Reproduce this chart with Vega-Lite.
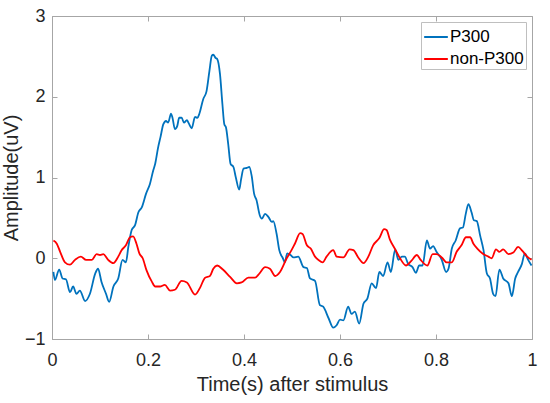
{
  "$schema": "https://vega.github.io/schema/vega-lite/v6.json",
  "width": 480,
  "height": 323,
  "autosize": "none",
  "padding": {"left": 52, "top": 16, "right": 18, "bottom": 64},
  "background": "white",
  "config": {
    "view": {"stroke": "#a6a6a6", "strokeWidth": 1},
    "font": "Liberation Sans",
    "axis": {"grid": false, "domainColor": "#a6a6a6", "tickColor": "#a6a6a6", "labelColor": "#262626", "titleColor": "#262626", "labelFont": "Liberation Sans", "titleFont": "Liberation Sans", "titleFontWeight": "normal", "labelFontSize": 18, "titleFontSize": 20, "labelFlush": false, "tickSize": -5}
  },
  "datasets": {
    "p300": [
      {"t":0.003,"v":-0.17},{"t":0.006,"v":-0.27},{"t":0.015,"v":-0.14},{"t":0.022,"v":-0.25},{"t":0.029,"v":-0.26},{"t":0.0375,"v":-0.42},{"t":0.044,"v":-0.35},{"t":0.051,"v":-0.44},{"t":0.058,"v":-0.40},{"t":0.069,"v":-0.53},{"t":0.079,"v":-0.44},{"t":0.090,"v":-0.19},{"t":0.096,"v":-0.13},{"t":0.103,"v":-0.29},{"t":0.1125,"v":-0.44},{"t":0.119,"v":-0.54},{"t":0.128,"v":-0.35},{"t":0.138,"v":-0.25},{"t":0.147,"v":-0.02},{"t":0.154,"v":-0.05},{"t":0.159,"v":0.14},{"t":0.166,"v":0.35},{"t":0.173,"v":0.41},{"t":0.180,"v":0.57},{"t":0.187,"v":0.63},{"t":0.196,"v":0.80},{"t":0.204,"v":0.92},{"t":0.211,"v":1.09},{"t":0.215,"v":1.17},{"t":0.221,"v":1.37},{"t":0.226,"v":1.50},{"t":0.232,"v":1.66},{"t":0.2375,"v":1.70},{"t":0.242,"v":1.68},{"t":0.248,"v":1.79},{"t":0.251,"v":1.74},{"t":0.256,"v":1.60},{"t":0.261,"v":1.64},{"t":0.265,"v":1.74},{"t":0.270,"v":1.74},{"t":0.275,"v":1.68},{"t":0.281,"v":1.71},{"t":0.285,"v":1.67},{"t":0.291,"v":1.61},{"t":0.298,"v":1.75},{"t":0.303,"v":1.74},{"t":0.307,"v":1.79},{"t":0.315,"v":1.97},{"t":0.322,"v":2.07},{"t":0.328,"v":2.32},{"t":0.333,"v":2.51},{"t":0.336,"v":2.52},{"t":0.341,"v":2.48},{"t":0.344,"v":2.47},{"t":0.350,"v":2.28},{"t":0.355,"v":1.91},{"t":0.359,"v":1.66},{"t":0.3625,"v":1.62},{"t":0.367,"v":1.42},{"t":0.372,"v":1.17},{"t":0.378,"v":1.13},{"t":0.383,"v":1.00},{"t":0.390,"v":0.85},{"t":0.394,"v":0.98},{"t":0.399,"v":1.11},{"t":0.406,"v":1.12},{"t":0.411,"v":1.13},{"t":0.416,"v":1.02},{"t":0.421,"v":0.80},{"t":0.426,"v":0.72},{"t":0.433,"v":0.53},{"t":0.437,"v":0.49},{"t":0.444,"v":0.55},{"t":0.451,"v":0.51},{"t":0.458,"v":0.45},{"t":0.461,"v":0.46},{"t":0.468,"v":0.30},{"t":0.4735,"v":0.10},{"t":0.481,"v":0.00},{"t":0.485,"v":-0.05},{"t":0.490,"v":0.06},{"t":0.497,"v":0.04},{"t":0.503,"v":0.01},{"t":0.513,"v":0.02},{"t":0.524,"v":-0.11},{"t":0.531,"v":-0.12},{"t":0.5375,"v":-0.25},{"t":0.548,"v":-0.28},{"t":0.558,"v":-0.58},{"t":0.565,"v":-0.60},{"t":0.576,"v":-0.74},{"t":0.586,"v":-0.86},{"t":0.593,"v":-0.83},{"t":0.600,"v":-0.76},{"t":0.607,"v":-0.77},{"t":0.617,"v":-0.60},{"t":0.624,"v":-0.69},{"t":0.631,"v":-0.66},{"t":0.640,"v":-0.81},{"t":0.649,"v":-0.56},{"t":0.657,"v":-0.50},{"t":0.666,"v":-0.31},{"t":0.675,"v":-0.37},{"t":0.682,"v":-0.17},{"t":0.690,"v":-0.22},{"t":0.699,"v":-0.05},{"t":0.706,"v":-0.17},{"t":0.715,"v":0.11},{"t":0.7215,"v":-0.02},{"t":0.729,"v":0.02},{"t":0.735,"v":0.02},{"t":0.742,"v":-0.07},{"t":0.751,"v":-0.11},{"t":0.758,"v":-0.18},{"t":0.765,"v":-0.09},{"t":0.772,"v":-0.09},{"t":0.781,"v":0.22},{"t":0.7875,"v":0.12},{"t":0.794,"v":0.15},{"t":0.801,"v":0.08},{"t":0.812,"v":-0.02},{"t":0.821,"v":-0.17},{"t":0.826,"v":-0.13},{"t":0.833,"v":0.12},{"t":0.841,"v":0.22},{"t":0.850,"v":0.37},{"t":0.856,"v":0.38},{"t":0.862,"v":0.55},{"t":0.8675,"v":0.67},{"t":0.874,"v":0.57},{"t":0.879,"v":0.47},{"t":0.885,"v":0.46},{"t":0.892,"v":0.28},{"t":0.899,"v":0.10},{"t":0.906,"v":-0.19},{"t":0.9125,"v":-0.25},{"t":0.919,"v":-0.44},{"t":0.924,"v":-0.47},{"t":0.932,"v":-0.14},{"t":0.940,"v":-0.25},{"t":0.951,"v":-0.31},{"t":0.958,"v":-0.47},{"t":0.965,"v":-0.25},{"t":0.971,"v":-0.17},{"t":0.979,"v":-0.07},{"t":0.985,"v":0.06},{"t":0.992,"v":-0.02},{"t":0.999,"v":-0.09}
    ],
    "nonp300": [
      {"t":0.003,"v":0.22},{"t":0.010,"v":0.18},{"t":0.017,"v":0.08},{"t":0.027,"v":-0.05},{"t":0.0375,"v":-0.08},{"t":0.048,"v":-0.02},{"t":0.060,"v":0.02},{"t":0.071,"v":-0.02},{"t":0.083,"v":-0.02},{"t":0.093,"v":0.05},{"t":0.100,"v":0.04},{"t":0.107,"v":0.05},{"t":0.117,"v":-0.02},{"t":0.128,"v":-0.06},{"t":0.138,"v":0.02},{"t":0.145,"v":0.10},{"t":0.154,"v":0.16},{"t":0.1625,"v":0.26},{"t":0.169,"v":0.27},{"t":0.176,"v":0.18},{"t":0.182,"v":0.06},{"t":0.189,"v":0.00},{"t":0.197,"v":-0.15},{"t":0.208,"v":-0.29},{"t":0.215,"v":-0.35},{"t":0.225,"v":-0.35},{"t":0.235,"v":-0.33},{"t":0.246,"v":-0.40},{"t":0.256,"v":-0.39},{"t":0.270,"v":-0.28},{"t":0.281,"v":-0.30},{"t":0.298,"v":-0.45},{"t":0.308,"v":-0.37},{"t":0.319,"v":-0.24},{"t":0.329,"v":-0.22},{"t":0.336,"v":-0.13},{"t":0.344,"v":-0.09},{"t":0.356,"v":-0.14},{"t":0.371,"v":-0.23},{"t":0.385,"v":-0.31},{"t":0.395,"v":-0.30},{"t":0.409,"v":-0.24},{"t":0.423,"v":-0.24},{"t":0.432,"v":-0.19},{"t":0.444,"v":-0.11},{"t":0.454,"v":-0.13},{"t":0.465,"v":-0.22},{"t":0.475,"v":-0.17},{"t":0.489,"v":0.00},{"t":0.499,"v":0.10},{"t":0.506,"v":0.18},{"t":0.517,"v":0.31},{"t":0.522,"v":0.30},{"t":0.531,"v":0.16},{"t":0.539,"v":0.12},{"t":0.548,"v":0.02},{"t":0.555,"v":-0.02},{"t":0.564,"v":-0.05},{"t":0.572,"v":0.02},{"t":0.586,"v":0.10},{"t":0.593,"v":0.02},{"t":0.607,"v":0.01},{"t":0.620,"v":0.11},{"t":0.628,"v":0.10},{"t":0.638,"v":0.01},{"t":0.649,"v":-0.06},{"t":0.659,"v":0.02},{"t":0.669,"v":0.16},{"t":0.682,"v":0.25},{"t":0.692,"v":0.36},{"t":0.697,"v":0.35},{"t":0.704,"v":0.23},{"t":0.715,"v":0.11},{"t":0.725,"v":0.00},{"t":0.7375,"v":-0.09},{"t":0.749,"v":-0.03},{"t":0.760,"v":0.04},{"t":0.768,"v":-0.02},{"t":0.782,"v":-0.09},{"t":0.793,"v":0.05},{"t":0.801,"v":0.05},{"t":0.812,"v":0.01},{"t":0.822,"v":-0.05},{"t":0.833,"v":-0.05},{"t":0.843,"v":0.08},{"t":0.853,"v":0.16},{"t":0.8625,"v":0.26},{"t":0.871,"v":0.26},{"t":0.878,"v":0.18},{"t":0.886,"v":0.12},{"t":0.897,"v":0.06},{"t":0.909,"v":0.02},{"t":0.916,"v":0.00},{"t":0.925,"v":0.11},{"t":0.932,"v":0.08},{"t":0.940,"v":0.11},{"t":0.951,"v":0.05},{"t":0.961,"v":0.07},{"t":0.971,"v":0.14},{"t":0.980,"v":0.09},{"t":0.990,"v":0.02},{"t":0.999,"v":-0.02}
    ]
  },
  "layer": [
    {
      "data": {"name": "p300"},
      "transform": [{"calculate": "'P300'", "as": "series"}],
      "mark": {"type": "line", "strokeWidth": 1.8, "interpolate": "monotone"},
      "encoding": {
        "x": {"field": "t", "type": "quantitative", "scale": {"domain": [0, 1], "nice": false}, "axis": {"title": "Time(s) after stimulus", "values": [0, 0.2, 0.4, 0.6, 0.8, 1], "format": "~g", "labelPadding": 17, "titlePadding": 5}},
        "y": {"field": "v", "type": "quantitative", "scale": {"domain": [-1, 3], "nice": false, "zero": false}, "axis": {"title": "Amplitude(uV)", "values": [-1, 0, 1, 2, 3], "labelPadding": 12, "titlePadding": 3}},
        "color": {"field": "series", "type": "nominal", "scale": {"domain": ["P300", "non-P300"], "range": ["#0072BD", "#FF0000"]}, "legend": {"title": null, "orient": "top-right", "offset": 6, "symbolType": "stroke", "symbolSize": 560, "symbolStrokeWidth": 2, "labelFontSize": 17, "labelColor": "#000000", "labelFont": "Liberation Sans", "strokeColor": "#bfbfbf", "fillColor": "white", "padding": 2, "rowPadding": 1, "labelOffset": 1}}
      }
    },
    {
      "data": {"name": "nonp300"},
      "transform": [{"calculate": "'non-P300'", "as": "series"}],
      "mark": {"type": "line", "strokeWidth": 1.8, "interpolate": "monotone"},
      "encoding": {
        "x": {"field": "t", "type": "quantitative", "axis": {"orient": "top", "labels": false, "title": null, "domain": false, "values": [0, 0.2, 0.4, 0.6, 0.8, 1]}},
        "y": {"field": "v", "type": "quantitative", "axis": {"orient": "right", "labels": false, "title": null, "domain": false, "values": [-1, 0, 1, 2, 3]}},
        "color": {"field": "series", "type": "nominal"}
      }
    }
  ],
  "resolve": {"axis": {"x": "independent", "y": "independent"}}
}
